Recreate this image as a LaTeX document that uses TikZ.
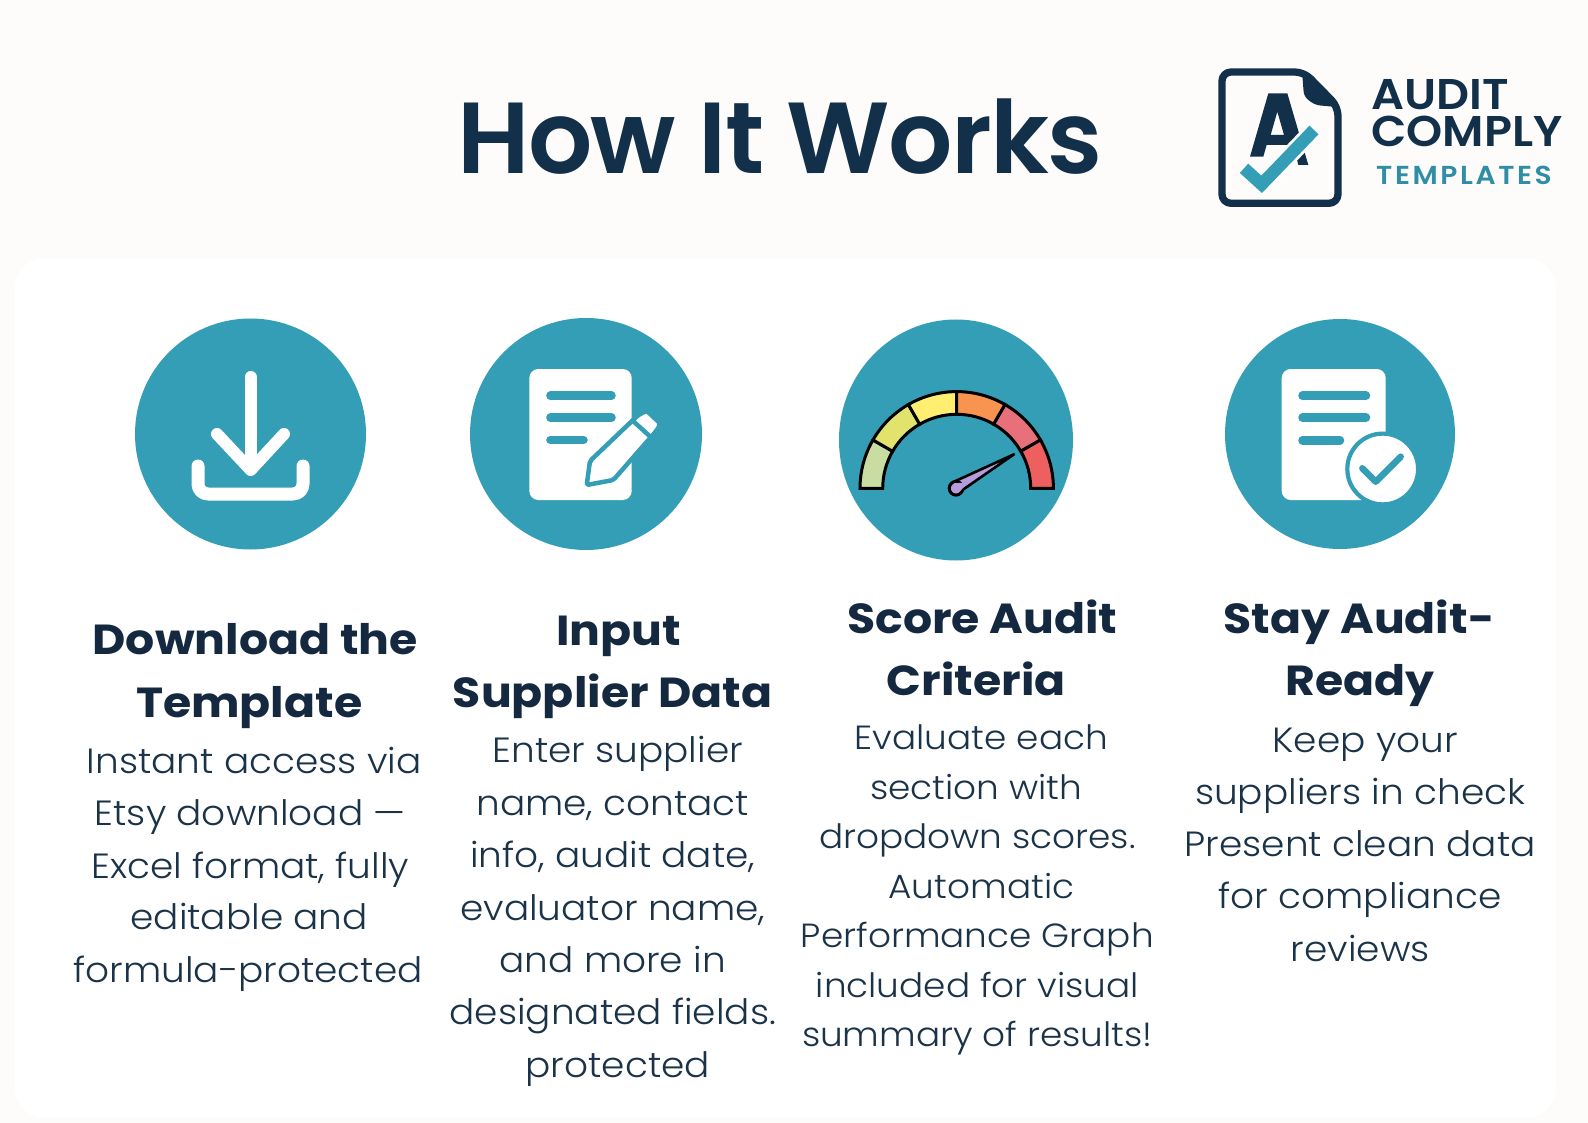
\documentclass[tikz,border=0pt]{standalone}
\usetikzlibrary{shapes.geometric}
\usepackage{fontspec}
\setmainfont{Poppins}
\newfontfamily\bodyfam{Poppins}[UprightFont=* Light,FakeStretch=1.07]
\newfontfamily\headfam{Poppins}[UprightFont=* Bold,FakeStretch=1.09]
\newfontfamily\titlefam{Poppins}[UprightFont=* SemiBold,LetterSpace=-1.6]
\newfontfamily\logofam{Poppins}[UprightFont=* SemiBold,FakeStretch=1.07]
\newfontfamily\logosp{Poppins}[UprightFont=* SemiBold,LetterSpace=10,FakeStretch=1.08]
\definecolor{teal1}{HTML}{349EB6}
\definecolor{navy1}{HTML}{12304A}
\definecolor{headc}{HTML}{14293F}
\definecolor{bodyc}{HTML}{1B3348}
\definecolor{bgc}{HTML}{FDFCFA}
\definecolor{ga}{HTML}{C9DDA3}
\definecolor{gb}{HTML}{E1E36C}
\definecolor{gc}{HTML}{FFEE70}
\definecolor{gd}{HTML}{F89450}
\definecolor{ge}{HTML}{E8707A}
\definecolor{gf}{HTML}{EE5F5F}
\definecolor{gn}{HTML}{B79CDC}
\tikzset{
 bodytxt/.style={anchor=base,inner sep=0,text=bodyc,font=\bodyfam\fontsize{35}{35}\selectfont},
 bodytxtc/.style={bodytxt,font=\bodyfam\fontsize{33.5}{33.5}\selectfont},
 headtxt/.style={anchor=base,inner sep=0,text=headc,font=\headfam\fontsize{42}{42}\selectfont},
 disc/.style={fill=teal1,draw=none},
 docw/.style={fill=white,draw=none,rounded corners=9pt},
 bar/.style={draw=teal1,line width=8.5pt,line cap=round},
 wline/.style={draw=white,line cap=round,line join=round},
 seg/.style={draw=black,line width=3pt,line join=miter},
}
\begin{document}
\begin{tikzpicture}[x=1pt,y=-1pt]
\useasboundingbox (0,0) rectangle (1588,1123);
\fill[bgc] (0,0) rectangle (1588,1123);
\fill[white,rounded corners=30pt] (15,258) rectangle (1556,1118);
% title
\node (title) [anchor=base,inner sep=0,text=navy1,font=\titlefam\fontsize{101}{101}\selectfont] at (780,174) {How It Works};
% logo
\begin{scope}[shift={(1200,50)},x=0.3333pt,y=-0.3333pt]
 \draw[navy1,line width=7.3pt,line join=round,rounded corners=9pt] (66,66) -- (312,66) -- (414,170) -- (414,460) -- (66,460) -- cycle;
 \fill[navy1,rounded corners=5pt] (306,62) -- (420,172) -- (345,165) -- (312,140) -- cycle;
 \fill[navy1,even odd rule] (205,130) -- (262,130) -- (325,345) -- (295,345) -- (280,285) -- (200,285) -- (190,320) -- (150,320) -- cycle (232,185) -- (252,255) -- (212,255) -- cycle;
 \draw[white,line width=18pt,line join=miter] (132,355) -- (185,403) -- (342,240);
 \draw[teal1,line width=12.5pt,line join=miter] (132,355) -- (185,403) -- (342,240);
\end{scope}
\node (lg1) [anchor=base west,inner sep=0,text=navy1,align=left,font=\logofam\fontsize{43}{37}\selectfont] at (1371,147) {AUDIT\\COMPLY};
\node (lg3) [anchor=base west,inner sep=0,text=teal1!85!navy1,font=\logosp\fontsize{26}{26}\selectfont] at (1376,185) {TEMPLATES};
% icon 1
\node (ic1) [disc,circle,minimum size=231pt,inner sep=0] at (250.5,434) {};
\draw[wline,line width=12pt] (250.7,377) -- (250.7,467);
\draw[wline,line width=12pt] (217,434) -- (250.7,470) -- (284,434);
\draw[wline,line width=13pt,rounded corners=10pt] (198,466) -- (198,494) -- (303,494) -- (303,466);
% icon 2
\node (ic2) [disc,circle,minimum size=232pt,inner sep=0] at (586,434) {};
\fill[docw] (529.3,369) rectangle (631.7,500);
\draw[bar] (550.4,395.7) -- (611.5,395.7);
\draw[bar] (550.4,417.7) -- (611.5,417.7);
\draw[bar] (550.4,440) -- (583.5,440);
\draw[fill=white,draw=teal1,line width=4.5pt,line join=round,rounded corners=2pt] (586.7,485) -- (590,461) -- (638.3,415) -- (646.7,410.7) -- (660.7,424) -- (655.7,431.7) -- (613.3,480) -- cycle;
\draw[teal1,line width=4.5pt] (632.7,420.7) -- (651,437.3);
% icon 3
\node (ic3) [disc,ellipse,minimum width=234pt,minimum height=241pt,inner sep=0] at (956,440) {};
\begin{scope}[shift={(956.7,488.3)},x=1pt,y=1pt]
\def\gseg#1#2#3{\draw[seg,fill=#3] (#1:74) -- (#1:96.7) arc[start angle=#1,end angle=#2,radius=96.7] -- (#2:74) arc[start angle=#2,end angle=#1,radius=74] -- cycle;}
\gseg{150}{180}{ga}
\gseg{120}{150}{gb}
\gseg{90}{120}{gc}
\gseg{60}{90}{gd}
\gseg{30}{60}{ge}
\gseg{0}{30}{gf}
\draw[line width=2.6pt,fill=gn,line join=round] (-4,6) -- (57.3,34) -- (1,-5) -- cycle;
\draw[line width=3pt,fill=gn] (-0.7,0) circle[radius=6.8];
\fill[gn] (-3,5) -- (3,-3) -- (12,6) -- cycle;
\end{scope}
% icon 4
\node (ic4) [disc,circle,minimum size=230pt,inner sep=0] at (1340,434) {};
\fill[docw] (1281.7,369) rectangle (1385.7,500);
\draw[bar] (1302.5,395.7) -- (1366,395.7);
\draw[bar] (1302.5,417.7) -- (1366,417.7);
\draw[bar] (1302.5,440.3) -- (1340,440.3);
\node (badge) [circle,fill=white,draw=teal1,line width=4.2pt,minimum size=70.8pt,inner sep=0] at (1382.7,469) {};
\draw[teal1,line width=6.5pt,line cap=round,line join=round] (1362.3,468.3) -- (1375.7,481.7) -- (1400.7,456.7);
% texts (coordinates of the text block on a slightly scaled grid)
\begin{scope}[x=1.0128pt,y=-1.0128pt]
\node (a1) [headtxt] at (252,646) {Download the};
\node (a2) [headtxt] at (246,708) {Template};
\node (a3) [bodytxt] at (251,764) {Instant access via};
\node (a4) [bodytxt] at (247,815) {Etsy download —};
\node (a5) [bodytxt] at (247,867) {Excel format, fully};
\node (a6) [bodytxt] at (246,918) {editable and};
\node (a7) [bodytxt] at (245,970) {formula-protected};
\node (b1) [headtxt] at (611,637) {Input};
\node (b2) [headtxt] at (605,699) {Supplier Data};
\node (b3) [bodytxt] at (610,753) {Enter supplier};
\node (b4) [bodytxt] at (605,805) {name, contact};
\node (b5) [bodytxt] at (605,857) {info, audit date,};
\node (b6) [bodytxt] at (605,909) {evaluator name,};
\node (b7) [bodytxt] at (605,960) {and more in};
\node (b8) [bodytxt] at (605,1012) {designated fields.};
\node (b9) [bodytxt] at (610,1064) {protected};
\node (c1) [headtxt] at (970,625) {Score Audit};
\node (c2) [headtxt] at (964,687) {Criteria};
\node (c3) [bodytxtc] at (969,740) {Evaluate each};
\node (c4) [bodytxtc] at (964,789) {section with};
\node (c5) [bodytxtc] at (965,838) {dropdown scores.};
\node (c6) [bodytxtc] at (969,887) {Automatic};
\node (c7) [bodytxtc] at (965,936) {Performance Graph};
\node (c8) [bodytxtc] at (965,985) {included for visual};
\node (c9) [bodytxtc] at (965,1033) {summary of results!};
\node (d1) [headtxt] at (1342,625) {Stay Audit-};
\node (d2) [headtxt] at (1343,687) {Ready};
\node (d3) [bodytxt] at (1348,743) {Keep your};
\node (d4) [bodytxt] at (1343,794) {suppliers in check};
\node (d5) [bodytxt] at (1343,846) {Present clean data};
\node (d6) [bodytxt] at (1343,897) {for compliance};
\node (d7) [bodytxt] at (1343,949) {reviews};
\end{scope}
\end{tikzpicture}
\end{document}
